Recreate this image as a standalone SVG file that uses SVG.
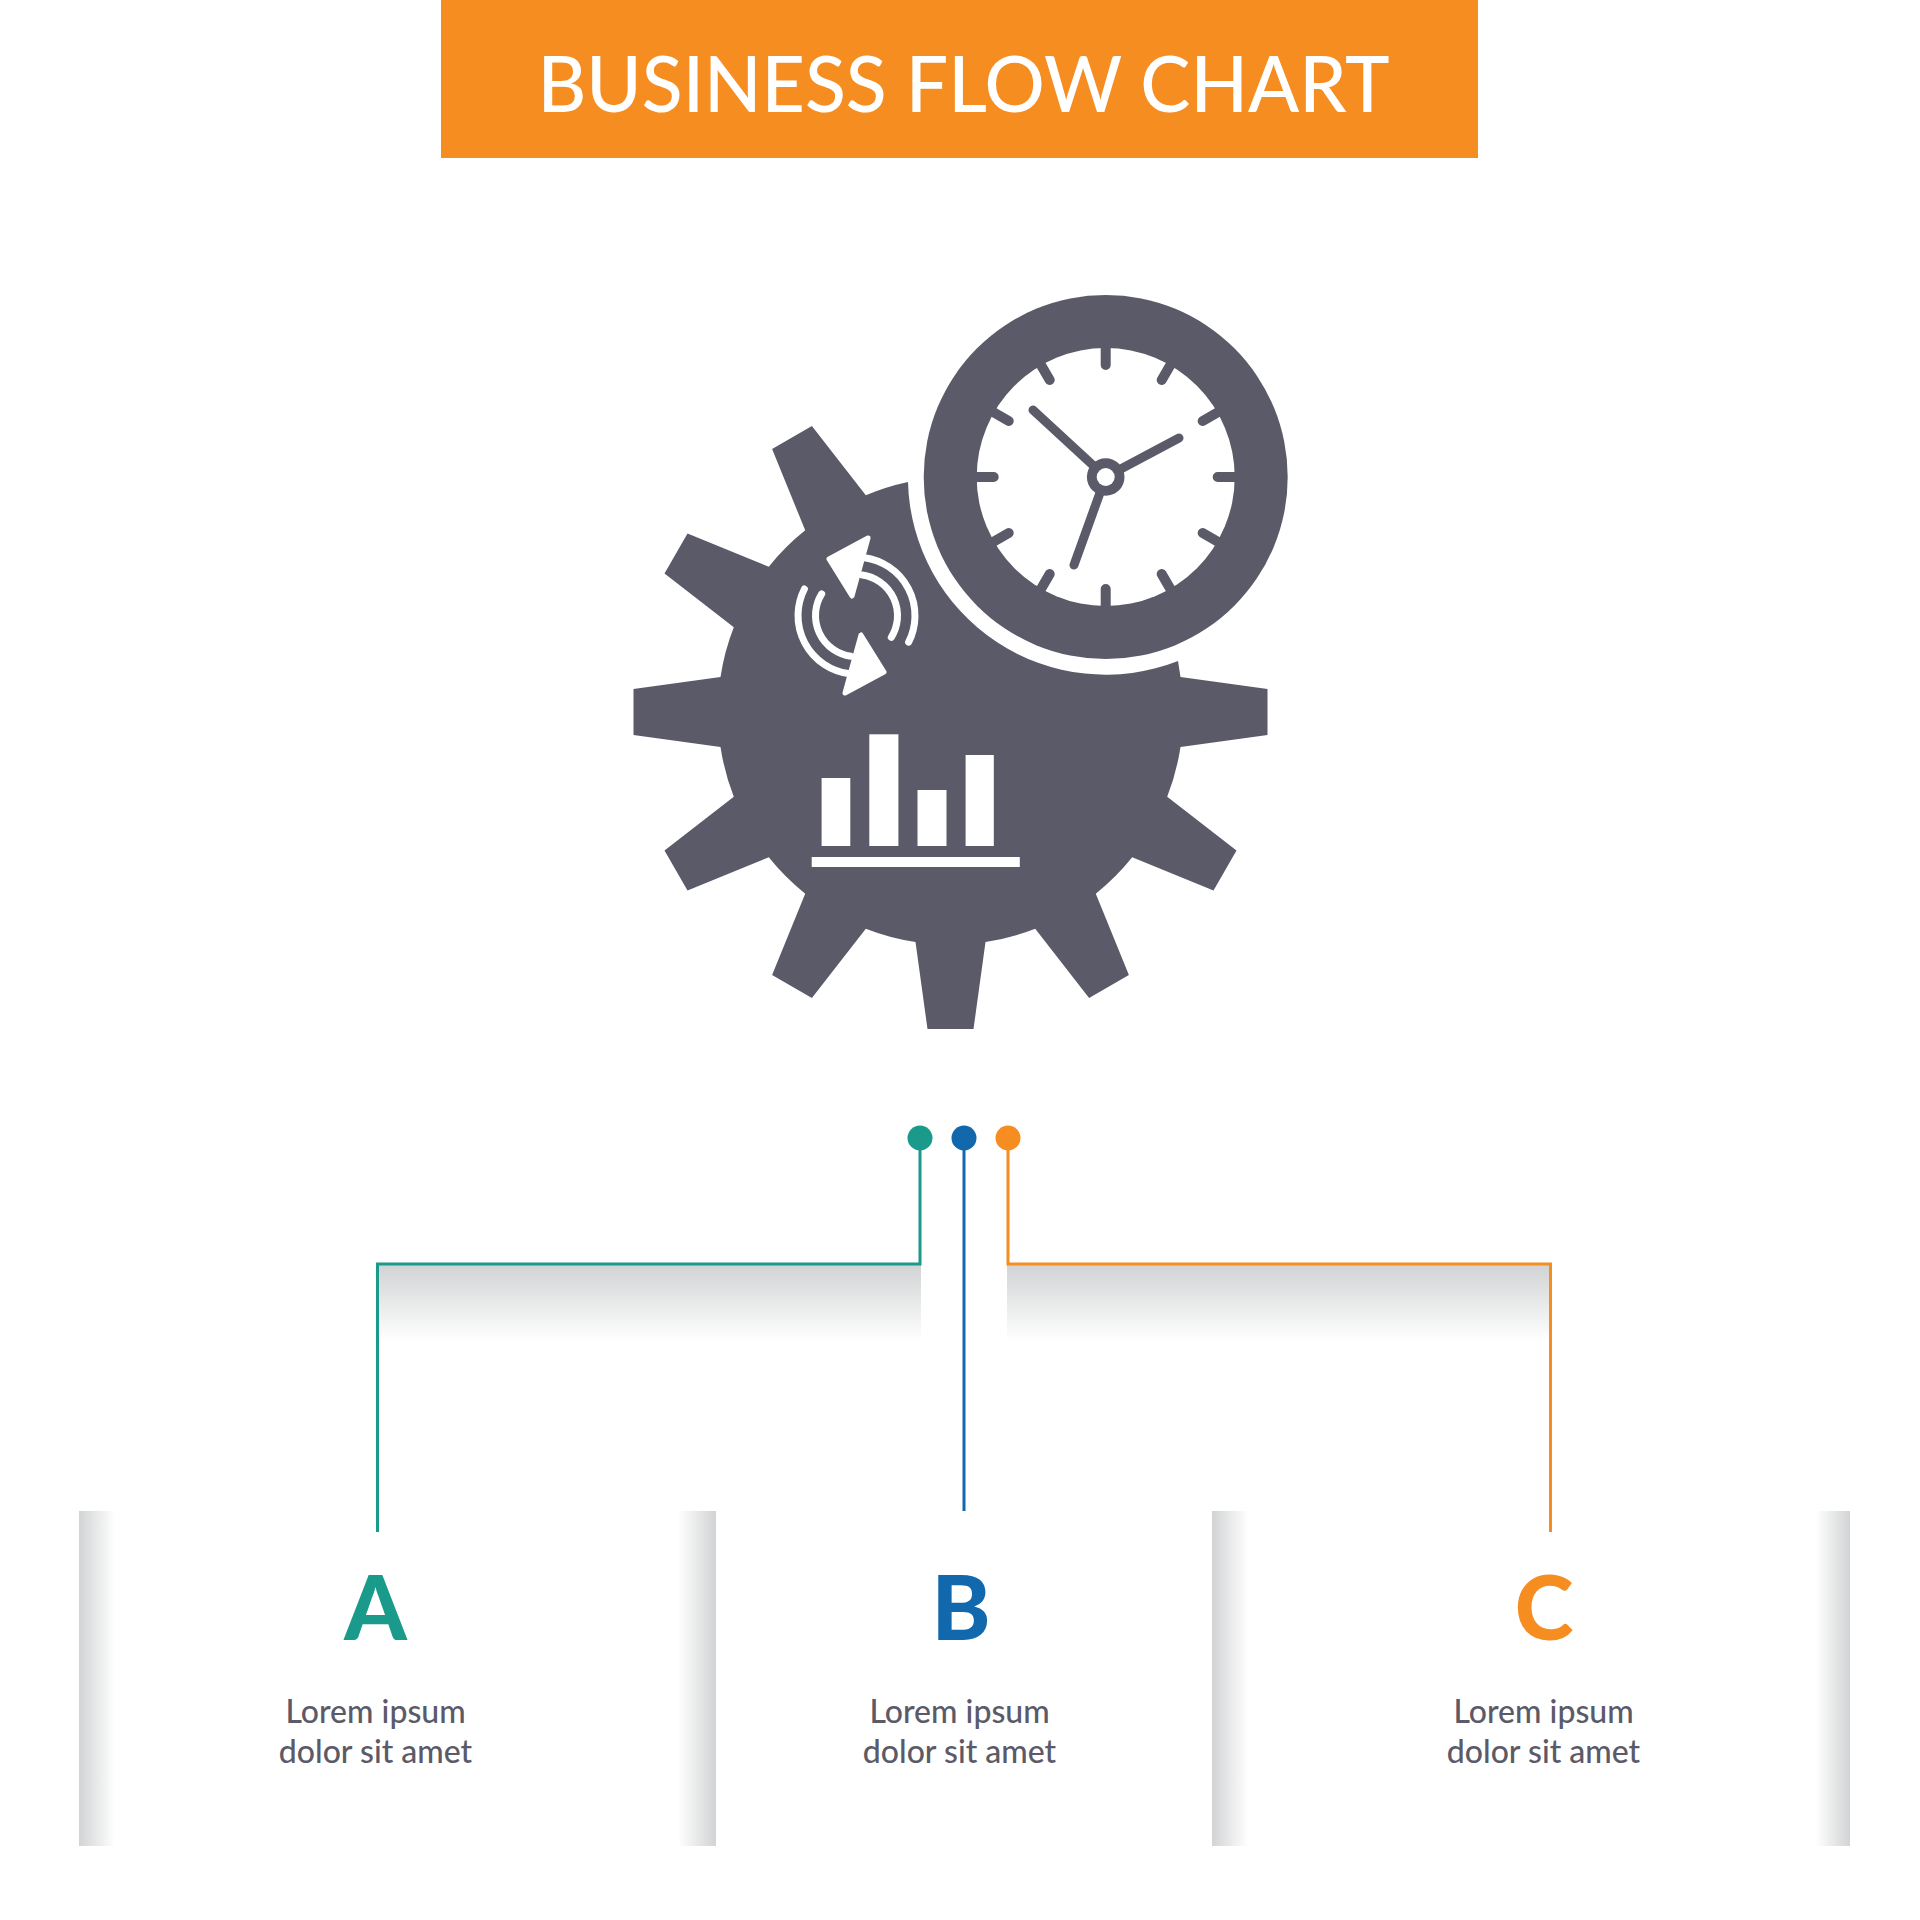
<svg xmlns="http://www.w3.org/2000/svg" width="1920" height="1920" viewBox="0 0 1920 1920">
<style>
.d{fill:#5b5a68}
.w{fill:#fff}
.tick{stroke:#5b5a68;stroke-width:10;stroke-linecap:round;fill:none}
.hand{stroke:#5b5a68;stroke-width:9;stroke-linecap:round;fill:none}
.arc{stroke:#fff;stroke-width:7;stroke-linecap:round;fill:none}
.tri{fill:#fff;stroke:#fff;stroke-width:5;stroke-linejoin:round}
.link{fill:none;stroke-width:3}
.letter{font-family:Lato,"Liberation Sans",sans-serif;font-weight:900;font-size:89px;text-anchor:middle}
.body{font-family:Lato,"Liberation Sans",sans-serif;font-weight:500;font-size:32px;fill:#5b5a68;text-anchor:middle}
</style>
<defs>
<linearGradient id="gd" x1="0" y1="0" x2="0" y2="1"><stop offset="0" stop-color="#d1d3d4"/><stop offset="1" stop-color="#fff"/></linearGradient>
<linearGradient id="gl" x1="0" y1="0" x2="1" y2="0"><stop offset="0" stop-color="#d1d3d4"/><stop offset="1" stop-color="#fff"/></linearGradient>
<linearGradient id="gr" x1="1" y1="0" x2="0" y2="0"><stop offset="0" stop-color="#d1d3d4"/><stop offset="1" stop-color="#fff"/></linearGradient>
</defs>
<rect width="1920" height="1920" fill="#fff"/>
<g id="header">
<rect x="441" y="0" width="1037" height="158" fill="#f68d20"/>
<text x="963.5" y="112" font-family="Lato,'Liberation Sans',sans-serif" font-size="77" font-weight="500" fill="#fff" text-anchor="middle" textLength="852" lengthAdjust="spacingAndGlyphs">BUSINESS FLOW CHART</text>
</g>
<g id="icon">
<path class="d" d="M1180.5 677L1267.5 689V735L1180.5 747A232.6 232.6 0 0 1 1167.2 796.7L1236.5 850.6L1213.5 890.4L1132.2 857.3A232.6 232.6 0 0 1 1095.8 893.7L1128.9 975L1089.1 998L1035.2 928.7A232.6 232.6 0 0 1 985.5 942L973.5 1029H927.5L915.5 942A232.6 232.6 0 0 1 865.8 928.7L811.9 998L772.1 975L805.2 893.7A232.6 232.6 0 0 1 768.8 857.3L687.5 890.4L664.5 850.6L733.8 796.7A232.6 232.6 0 0 1 720.5 747L633.5 735V689L720.5 677A232.6 232.6 0 0 1 733.8 627.3L664.5 573.4L687.5 533.6L768.8 566.7A232.6 232.6 0 0 1 805.2 530.3L772.1 449L811.9 426L865.8 495.3A232.6 232.6 0 0 1 908 482A197.7 197.7 0 0 0 1178 661Z"/>
<path class="arc" d="M864.6 557.7A58.5 58.5 0 0 1 908.6 642.2M862.2 575A41 41 0 0 1 891.3 637.3M848.4 673.5A58.5 58.5 0 0 1 804.4 589M850.8 656.2A41 41 0 0 1 821.7 593.9"/>
<polygon class="tri" points="868,538 829,559 852,596"/>
<polygon class="tri" points="845,693 884,672 861,635"/>
<g class="w">
<rect x="821.6" y="778" width="28.7" height="68"/>
<rect x="869.3" y="734.3" width="29.1" height="111.7"/>
<rect x="917.5" y="790" width="29" height="56"/>
<rect x="965.6" y="755" width="28.2" height="91"/>
<rect x="811.7" y="857" width="208.1" height="10"/>
</g>
<circle class="d" cx="1105.7" cy="477" r="182"/>
<circle class="w" cx="1105.7" cy="477" r="129"/>
<g class="tick">
<path d="M1105.7 346V365M1105.7 608V589M974.7 477H993.7M1236.7 477H1217.7"/>
<path d="M1170.7 364.4L1161.7 380M1040.7 589.6L1049.7 574M993.1 412L1008.7 421M1218.3 542L1202.7 533"/>
<path d="M1218.3 412L1202.7 421M993.1 542L1008.7 533M1040.7 364.4L1049.7 380M1170.7 589.6L1161.7 574"/>
</g>
<path class="hand" d="M1105.7 477L1033 410M1105.7 477L1179 438M1105.7 477L1074 565"/>
<circle class="d" cx="1105.7" cy="477" r="18.8"/>
<circle class="w" cx="1105.7" cy="477" r="9"/>
</g>
<g id="connectors">
<rect x="377" y="1265" width="544" height="76" fill="url(#gd)"/>
<rect x="1007" y="1265" width="544" height="76" fill="url(#gd)"/>
<path class="link" stroke="#1a9a8a" d="M920 1138V1264H377.500V1532"/>
<path class="link" stroke="#1268ad" d="M964 1138V1511"/>
<path class="link" stroke="#f68d20" d="M1008 1138V1264H1550.500V1532"/>
</g>
<g id="dots">
<circle cx="920" cy="1138" r="12.500" fill="#1a9a8a"/>
<circle cx="964" cy="1138" r="12.500" fill="#1268ad"/>
<circle cx="1008" cy="1138" r="12.500" fill="#f68d20"/>
</g>
<g id="node-a">
<rect x="79" y="1511" width="36" height="335" fill="url(#gl)"/>
<rect x="678" y="1511" width="38" height="335" fill="url(#gr)"/>
<text class="letter" x="375.500" y="1640" fill="#1a9a8a">A</text>
<text class="body" x="375.500" y="1723">Lorem ipsum</text>
<text class="body" x="375.500" y="1763">dolor sit amet</text>
</g>
<g id="node-b">
<text class="letter" x="961" y="1640" fill="#1268ad">B</text>
<text class="body" x="959.500" y="1723">Lorem ipsum</text>
<text class="body" x="959.500" y="1763">dolor sit amet</text>
</g>
<g id="node-c">
<rect x="1212" y="1511" width="36" height="335" fill="url(#gl)"/>
<rect x="1816" y="1511" width="34" height="335" fill="url(#gr)"/>
<text class="letter" x="1544" y="1640" fill="#f68d20">C</text>
<text class="body" x="1543.500" y="1723">Lorem ipsum</text>
<text class="body" x="1543.500" y="1763">dolor sit amet</text>
</g>
</svg>
